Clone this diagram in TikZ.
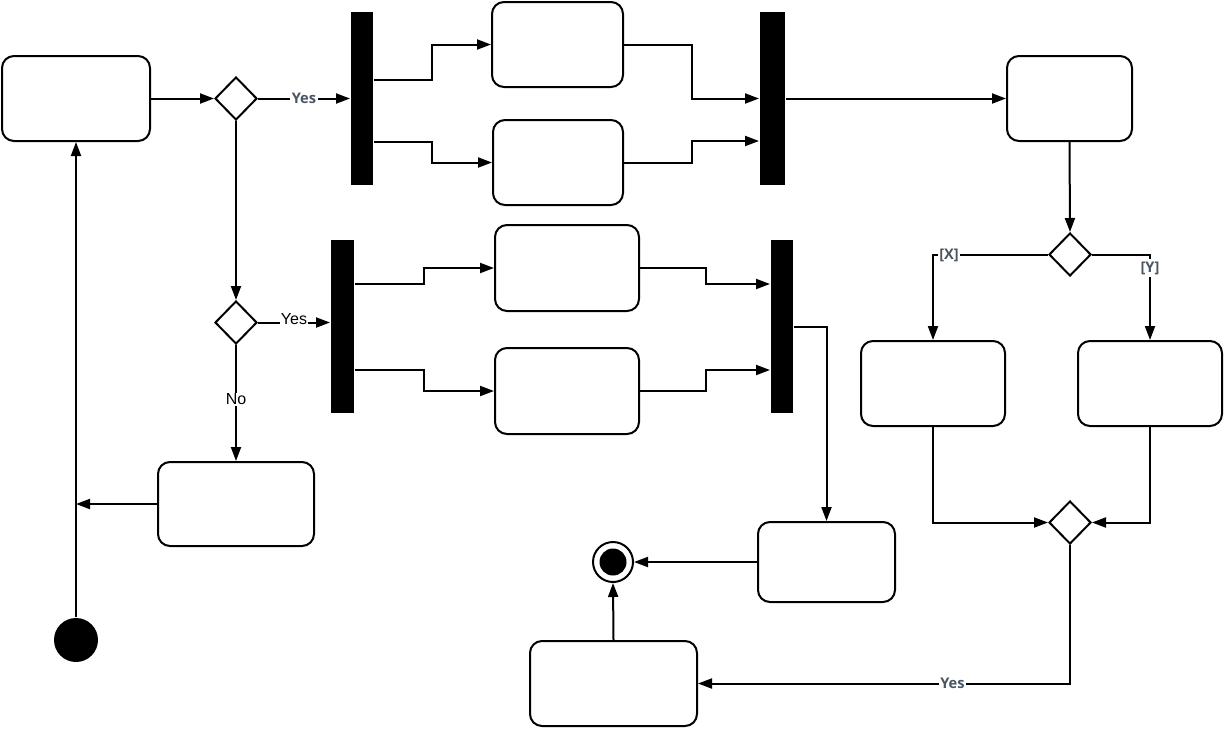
\documentclass[tikz,border=0pt]{standalone}
\usepackage{fontspec}
\setmainfont{Liberation Sans}
\newfontfamily\lblfont{Open Sans}
\usetikzlibrary{shapes.geometric,arrows.meta,positioning,calc}
\newcommand\pxu{0.75pt}
\definecolor{lblgray}{RGB}{74,85,99}
\begin{document}
\begin{tikzpicture}[x=0.75pt,y=-0.75pt,
  line width=2*\pxu,
  act/.style={draw,rounded corners=12*\pxu,inner sep=0pt},
  bar/.style={fill=black,draw=none,inner sep=0pt},
  dec/.style={draw,diamond,inner sep=0pt,minimum width=42*\pxu,minimum height=43*\pxu},
  arr/.style={-{Triangle[length=14*\pxu,width=10*\pxu]}},
  blbl/.style={font=\lblfont\bfseries\fontsize{11}{12}\selectfont,text=lblgray,fill=white,inner sep=1pt},
  rlbl/.style={font=\fontsize{12}{13}\selectfont,fill=white,inner sep=1pt}
]
\useasboundingbox (0,0) rectangle (1224,729);
% activities
\node[act,minimum width=148*\pxu,minimum height=85*\pxu] (A) at (76,98.5) {};
\node[act,minimum width=131*\pxu,minimum height=85*\pxu] (B1) at (557.5,44.5) {};
\node[act,minimum width=130*\pxu,minimum height=85*\pxu] (B2) at (558,162.5) {};
\node[act,minimum width=125*\pxu,minimum height=85*\pxu] (C) at (1069.5,98.5) {};
\node[act,minimum width=144*\pxu,minimum height=86*\pxu] (E1) at (567,268) {};
\node[act,minimum width=144*\pxu,minimum height=86*\pxu] (E2) at (567,391) {};
\node[act,minimum width=156*\pxu,minimum height=84*\pxu] (F) at (236,504) {};
\node[act,minimum width=137*\pxu,minimum height=80*\pxu] (G) at (826.5,562) {};
\node[act,minimum width=167*\pxu,minimum height=85*\pxu] (H) at (613.5,683.5) {};
\node[act,minimum width=144*\pxu,minimum height=85*\pxu] (X) at (933,383.5) {};
\node[act,minimum width=144*\pxu,minimum height=85*\pxu] (Y) at (1150,383.5) {};
% bars
\node[bar,minimum width=22*\pxu,minimum height=173*\pxu] (bar1) at (362,98.5) {};
\node[bar,minimum width=25*\pxu,minimum height=173*\pxu] (bar2) at (772.5,98.5) {};
\node[bar,minimum width=23*\pxu,minimum height=173*\pxu] (bar3) at (342.5,326.5) {};
\node[bar,minimum width=22*\pxu,minimum height=173*\pxu] (bar4) at (782,326.5) {};
% decisions
\node[dec] (D1) at (236,98.5) {};
\node[dec] (D2) at (236,322.5) {};
\node[dec] (D3) at (1070,254.5) {};
\node[dec] (D4) at (1070,522.5) {};
% start / end
\node[circle,fill=black,minimum size=44*\pxu,inner sep=0pt] (start) at (76,640) {};
\node[circle,draw,minimum size=40*\pxu,inner sep=0pt] (fin) at (613,562) {};
\node[circle,fill=black,minimum size=27*\pxu,inner sep=0pt] (finin) at (fin) {};
% connectors
\draw[arr] (A.east) -- (D1.west);
\draw[arr] (D1.east) -- node[blbl]{Yes} (D1.east -| bar1.west);
\draw[arr] (bar1.east |- 0,80) -- (432,80) |- (B1.west);
\draw[arr] (bar1.east |- 0,142) -- (432,142) |- (B2.west);
\draw[arr] (B1.east) -- (692,44.5) |- (bar2.west |- 0,98.5);
\draw[arr] (B2.east) -- (692,162.5) |- (bar2.west |- 0,141);
\draw[arr] (bar2.east |- C.west) -- (C.west);
\draw[arr] (D1.south) -- (D2.north);
\draw[arr] (D2.east) -- node[rlbl,pos=0.5,yshift=3*\pxu]{Yes} (D2.east -| bar3.west);
\draw[arr] (bar3.east |- 0,284) -- (424,284) |- (E1.west);
\draw[arr] (bar3.east |- 0,370) -- (424,370) |- (E2.west);
\draw[arr] (E1.east) -- (706,268) |- (bar4.west |- 0,284);
\draw[arr] (E2.east) -- (706,391) |- (bar4.west |- 0,370);
\draw[arr] (bar4.east |- 0,327) -| (G.north);
\draw[arr] (D2.south) -- node[rlbl,pos=0.47]{No} (F.north);
\coordinate (lj) at (76,504);
\draw[arr] (F.west) -- (lj);
\draw[arr] (start.north) -- (A.south);
\draw[arr] (C.south) -- (D3.north);
\draw[arr] (D3.west) -| (X.north);
\node[blbl] at (949,255) {[X]};
\draw[arr] (D3.east) -| (Y.north);
\node[blbl,inner sep=2pt] at (1150,268) {[Y]};
\draw[arr] (X.south) |- (D4.west);
\draw[arr] (Y.south) |- (D4.east);
\draw[arr] (D4.south) |- node[blbl,pos=0.658]{Yes} (H.east);
\draw[arr] (G.west) -- (fin.east);
\draw[arr] (H.north) -- (fin.south);
\end{tikzpicture}
\end{document}
